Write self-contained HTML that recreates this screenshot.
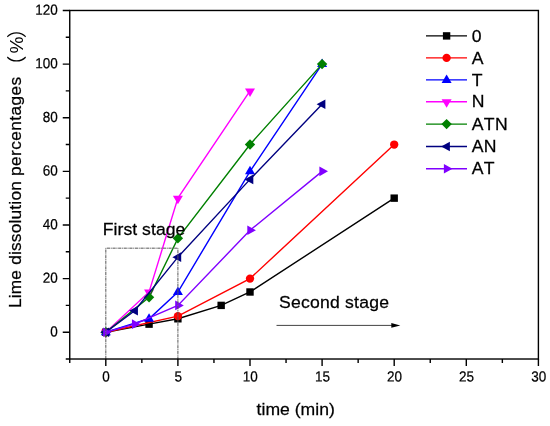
<!DOCTYPE html>
<html><head><meta charset="utf-8"><title>Lime dissolution</title>
<style>html,body{margin:0;padding:0;background:#fff}svg{display:block}text{font-family:"Liberation Sans","Noto Sans CJK SC",sans-serif;fill:#000}.tk{font-size:13.5px}.lb{font-size:16.9px;font-kerning:none;stroke:#000;stroke-width:0.25px}.cj{font-family:"Noto Sans CJK SC",sans-serif;font-size:20px}.pc{font-size:19.2px}.tk{stroke:#000;stroke-width:0.2px}</style></head><body>
<svg width="550" height="426" viewBox="0 0 550 426">
<rect width="550" height="426" fill="#fff"/>
<path d="M105.80,332.20 L149.06,324.16 L177.90,318.79 L221.16,305.39 L250.00,291.99 L394.20,198.15" fill="none" stroke="#000000" stroke-width="1.4"/>
<rect x="102.10" y="328.50" width="7.4" height="7.4" fill="#000000"/>
<rect x="145.36" y="320.46" width="7.4" height="7.4" fill="#000000"/>
<rect x="174.20" y="315.09" width="7.4" height="7.4" fill="#000000"/>
<rect x="217.46" y="301.69" width="7.4" height="7.4" fill="#000000"/>
<rect x="246.30" y="288.29" width="7.4" height="7.4" fill="#000000"/>
<rect x="390.50" y="194.45" width="7.4" height="7.4" fill="#000000"/>
<path d="M105.80,332.20 L177.90,316.11 L250.00,278.58 L394.20,144.53" fill="none" stroke="#ff0000" stroke-width="1.4"/>
<circle cx="105.80" cy="332.20" r="4.15" fill="#ff0000"/>
<circle cx="177.90" cy="316.11" r="4.15" fill="#ff0000"/>
<circle cx="250.00" cy="278.58" r="4.15" fill="#ff0000"/>
<circle cx="394.20" cy="144.53" r="4.15" fill="#ff0000"/>
<path d="M105.80,332.20 L149.06,318.79 L177.90,291.99 L250.00,171.34 L322.10,64.10" fill="none" stroke="#0000ff" stroke-width="1.4"/>
<polygon points="100.80,335.20 110.80,335.20 105.80,326.70" fill="#0000ff"/>
<polygon points="144.06,321.79 154.06,321.79 149.06,313.29" fill="#0000ff"/>
<polygon points="172.90,294.99 182.90,294.99 177.90,286.49" fill="#0000ff"/>
<polygon points="245.00,174.34 255.00,174.34 250.00,165.84" fill="#0000ff"/>
<polygon points="317.10,67.10 327.10,67.10 322.10,58.60" fill="#0000ff"/>
<path d="M105.80,332.20 L149.06,291.99 L177.90,198.15 L250.00,90.91" fill="none" stroke="#ff00ff" stroke-width="1.4"/>
<polygon points="100.80,329.70 110.80,329.70 105.80,338.20" fill="#ff00ff"/>
<polygon points="144.06,289.49 154.06,289.49 149.06,297.99" fill="#ff00ff"/>
<polygon points="172.90,195.65 182.90,195.65 177.90,204.15" fill="#ff00ff"/>
<polygon points="245.00,88.41 255.00,88.41 250.00,96.91" fill="#ff00ff"/>
<path d="M105.80,332.20 L149.06,297.35 L177.90,238.36 L250.00,144.53 L322.10,64.10" fill="none" stroke="#008000" stroke-width="1.4"/>
<polygon points="100.60,332.20 105.80,327.00 111.00,332.20 105.80,337.40" fill="#008000"/>
<polygon points="143.86,297.35 149.06,292.15 154.26,297.35 149.06,302.55" fill="#008000"/>
<polygon points="172.70,238.36 177.90,233.16 183.10,238.36 177.90,243.56" fill="#008000"/>
<polygon points="244.80,144.53 250.00,139.33 255.20,144.53 250.00,149.73" fill="#008000"/>
<polygon points="316.90,64.10 322.10,58.90 327.30,64.10 322.10,69.30" fill="#008000"/>
<path d="M105.80,332.20 L134.64,310.75 L177.90,257.13 L250.00,179.38 L322.10,104.31" fill="none" stroke="#000080" stroke-width="1.4"/>
<polygon points="109.10,327.40 109.10,337.00 100.30,332.20" fill="#000080"/>
<polygon points="137.94,305.95 137.94,315.55 129.14,310.75" fill="#000080"/>
<polygon points="181.20,252.33 181.20,261.93 172.40,257.13" fill="#000080"/>
<polygon points="253.30,174.58 253.30,184.18 244.50,179.38" fill="#000080"/>
<polygon points="325.40,99.52 325.40,109.11 316.60,104.31" fill="#000080"/>
<path d="M105.80,332.20 L134.64,324.16 L177.90,305.39 L250.00,230.32 L322.10,171.34" fill="none" stroke="#8000ff" stroke-width="1.4"/>
<polygon points="103.10,327.40 103.10,337.00 111.70,332.20" fill="#8000ff"/>
<polygon points="131.94,319.36 131.94,328.96 140.54,324.16" fill="#8000ff"/>
<polygon points="175.20,300.59 175.20,310.19 183.80,305.39" fill="#8000ff"/>
<polygon points="247.30,225.52 247.30,235.12 255.90,230.32" fill="#8000ff"/>
<polygon points="319.40,166.54 319.40,176.14 328.00,171.34" fill="#8000ff"/>
<path d="M105.80,359.01 V248.2 H177.90 V359.01" fill="none" stroke="#999" stroke-opacity="0.4" stroke-width="0.9"/>
<path d="M105.80,359.01 V248.2 H177.90 V359.01" fill="none" stroke="#444" stroke-width="0.8" stroke-dasharray="3 0.9 0.8 0.9"/>
<rect x="69.75" y="10.48" width="468.65" height="348.53" fill="none" stroke="#000" stroke-width="1.4"/>
<path d="M69.75,359.01h-4 M69.75,332.20h-7 M69.75,305.39h-4 M69.75,278.58h-7 M69.75,251.77h-4 M69.75,224.96h-7 M69.75,198.15h-4 M69.75,171.34h-7 M69.75,144.53h-4 M69.75,117.72h-7 M69.75,90.91h-4 M69.75,64.10h-7 M69.75,37.29h-4 M69.75,10.48h-7 M69.75,359.01v4 M105.80,359.01v7 M141.85,359.01v4 M177.90,359.01v7 M213.95,359.01v4 M250.00,359.01v7 M286.05,359.01v4 M322.10,359.01v7 M358.15,359.01v4 M394.20,359.01v7 M430.25,359.01v4 M466.30,359.01v7 M502.35,359.01v4 M538.40,359.01v7" stroke="#000" stroke-width="1.4" fill="none"/>
<text class="tk" transform="translate(57.65,336.40) rotate(0.03) scale(1,1.08)" text-anchor="end">0</text>
<text class="tk" transform="translate(57.65,282.78) rotate(0.03) scale(1,1.08)" text-anchor="end">20</text>
<text class="tk" transform="translate(57.65,229.16) rotate(0.03) scale(1,1.08)" text-anchor="end">40</text>
<text class="tk" transform="translate(57.65,175.54) rotate(0.03) scale(1,1.08)" text-anchor="end">60</text>
<text class="tk" transform="translate(57.65,121.92) rotate(0.03) scale(1,1.08)" text-anchor="end">80</text>
<text class="tk" transform="translate(57.65,68.30) rotate(0.03) scale(1,1.08)" text-anchor="end">100</text>
<text class="tk" transform="translate(57.65,14.68) rotate(0.03) scale(1,1.08)" text-anchor="end">120</text>
<text class="tk" transform="translate(106.10,381.5) rotate(0.03) scale(1,1.08)" text-anchor="middle">0</text>
<text class="tk" transform="translate(178.20,381.5) rotate(0.03) scale(1,1.08)" text-anchor="middle">5</text>
<text class="tk" transform="translate(250.30,381.5) rotate(0.03) scale(1,1.08)" text-anchor="middle">10</text>
<text class="tk" transform="translate(322.40,381.5) rotate(0.03) scale(1,1.08)" text-anchor="middle">15</text>
<text class="tk" transform="translate(394.50,381.5) rotate(0.03) scale(1,1.08)" text-anchor="middle">20</text>
<text class="tk" transform="translate(466.60,381.5) rotate(0.03) scale(1,1.08)" text-anchor="middle">25</text>
<text class="tk" transform="translate(538.70,381.5) rotate(0.03) scale(1,1.08)" text-anchor="middle">30</text>
<text class="lb" transform="translate(256.6,415.0) scale(1.042,1)" letter-spacing="0">time (min)</text>
<text class="lb" style="font-size:17.3px" transform="translate(21.2,308.1) rotate(-90)" letter-spacing="0.2">Lime dissolution <tspan letter-spacing="0.41">percentages</tspan></text>
<text class="cj" transform="translate(24.4,75.6) rotate(-90)">（</text>
<text class="pc" transform="translate(22.6,53.6) rotate(-90)">%</text>
<text class="cj" transform="translate(24.4,38.2) rotate(-90)">）</text>
<text class="lb" transform="translate(102.7,234.6) scale(1.042,1)" letter-spacing="0.05">First stage</text>
<text class="lb" transform="translate(279,308.2) scale(1.042,1)" letter-spacing="0.2">Second stage</text>
<path d="M276.5,325.4 H392" stroke="#222" stroke-width="0.85" fill="none"/>
<polygon points="400.3,325.4 391.3,323 391.3,327.8" fill="#000"/>
<path d="M426,35.9 H467" stroke="#000000" stroke-width="1.4" fill="none"/>
<rect x="442.90" y="32.20" width="7.4" height="7.4" fill="#000000"/>
<text class="lb" transform="translate(471.8,41.5) scale(1.042,1)" letter-spacing="0.3">0</text>
<path d="M426,57.9 H467" stroke="#ff0000" stroke-width="1.4" fill="none"/>
<circle cx="446.60" cy="57.90" r="4.15" fill="#ff0000"/>
<text class="lb" transform="translate(471.8,63.5) scale(1.042,1)" letter-spacing="0.3">A</text>
<path d="M426,79.9 H467" stroke="#0000ff" stroke-width="1.4" fill="none"/>
<polygon points="441.60,82.90 451.60,82.90 446.60,74.40" fill="#0000ff"/>
<text class="lb" transform="translate(471.8,85.5) scale(1.042,1)" letter-spacing="0.3">T</text>
<path d="M426,101.8 H467" stroke="#ff00ff" stroke-width="1.4" fill="none"/>
<polygon points="441.60,99.30 451.60,99.30 446.60,107.80" fill="#ff00ff"/>
<text class="lb" transform="translate(471.8,107.4) scale(1.042,1)" letter-spacing="0.3">N</text>
<path d="M426,124.1 H467" stroke="#008000" stroke-width="1.4" fill="none"/>
<polygon points="441.40,124.10 446.60,118.90 451.80,124.10 446.60,129.30" fill="#008000"/>
<text class="lb" transform="translate(471.8,129.7) scale(1.042,1)" letter-spacing="0.3">ATN</text>
<path d="M426,146.5 H467" stroke="#000080" stroke-width="1.4" fill="none"/>
<polygon points="449.90,141.70 449.90,151.30 441.10,146.50" fill="#000080"/>
<text class="lb" transform="translate(471.8,152.1) scale(1.042,1)" letter-spacing="0.3">AN</text>
<path d="M426,168.7 H467" stroke="#8000ff" stroke-width="1.4" fill="none"/>
<polygon points="443.90,163.90 443.90,173.50 452.50,168.70" fill="#8000ff"/>
<text class="lb" transform="translate(471.8,174.3) scale(1.042,1)" letter-spacing="0.3">AT</text>
</svg></body></html>
